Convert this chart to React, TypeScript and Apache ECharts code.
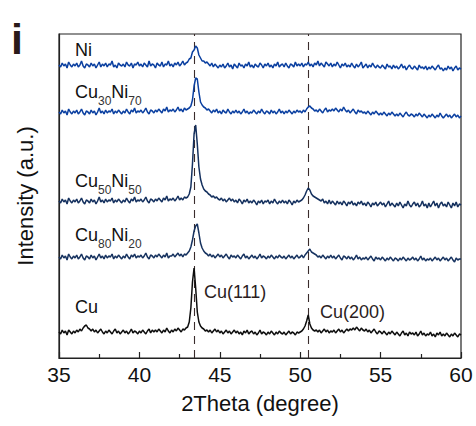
import React, { useEffect, useRef } from "react";
import * as echarts from "echarts";

// 2θ sampling grid (degrees)
const THETA_START = 35;
const THETA_STEP = 0.1;
const twoTheta = Array.from({ length: 251 }, (_, i) => Number((THETA_START + i * THETA_STEP).toFixed(1)));

// Intensities (a.u., stacked offsets), one row per degree
const ni = [
  293, 291, 295, 292, 294, 290, 296, 293, 291, 294,
  292, 295, 291, 293, 297, 292, 290, 294, 293, 291,
  295, 292, 294, 290, 293, 296, 291, 294, 292, 295,
  291, 294, 293, 297, 291, 293, 290, 295, 293, 292,
  294, 291, 296, 293, 292, 295, 290, 294, 293, 296,
  292, 294, 291, 295, 293, 291, 297, 292, 294, 293,
  290, 295, 293, 292, 296, 291, 294, 293, 297, 292,
  294, 291, 295, 293, 296, 292, 294, 297, 293, 295,
  296, 299, 300, 306, 308, 312, 310, 303, 300, 297,
  297, 295, 296, 294, 292, 295, 291, 294, 292, 290,
  293, 291, 294, 290, 292, 295, 291, 293, 289, 294,
  292, 290, 295, 292, 293, 290, 294, 292, 296, 291,
  293, 290, 294, 292, 291, 295, 293, 290, 294, 292,
  295, 291, 293, 290, 294, 292, 296, 291, 293, 294,
  291, 295, 292, 290, 294, 293, 291, 296, 292, 294,
  292, 295, 291, 294, 293, 296, 292, 294, 291, 295,
  293, 297, 292, 295, 293, 291, 296, 294, 292, 295,
  291, 294, 292, 296, 293, 290, 294, 292, 295, 291,
  293, 291, 295, 292, 290, 294, 291, 293, 296, 290,
  292, 294, 290, 293, 291, 295, 292, 290, 293, 291,
  290, 293, 291, 289, 294, 291, 292, 289, 293, 290,
  292, 289, 291, 294, 290, 292, 288, 291, 293, 290,
  289, 292, 290, 288, 293, 290, 291, 289, 292, 288,
  291, 289, 292, 290, 288, 291, 293, 289, 290, 287,
  290, 288, 292, 289, 291, 287, 290, 292, 288, 290,
  289,
];

const cu30ni70 = [
  246, 244, 248, 245, 247, 243, 249, 246, 244, 247,
  245, 248, 244, 246, 249, 245, 243, 247, 246, 244,
  248, 245, 247, 243, 246, 250, 245, 247, 244, 248,
  245, 247, 246, 249, 244, 247, 245, 248, 246, 244,
  247, 245, 249, 246, 244, 248, 246, 250, 245, 247,
  246, 248, 245, 247, 250, 246, 244, 248, 247, 245,
  248, 246, 249, 247, 245, 249, 247, 251, 246, 248,
  247, 249, 246, 248, 251, 247, 249, 246, 250, 248,
  249, 250, 252, 258, 272, 280, 279, 266, 256, 253,
  251, 250, 248, 249, 247, 245, 248, 246, 249, 245,
  247, 244, 248, 246, 245, 249, 246, 244, 247, 245,
  248, 245, 247, 244, 246, 249, 245, 247, 244, 246,
  245, 248, 246, 244, 247, 245, 249, 246, 244, 247,
  246, 244, 248, 245, 247, 244, 246, 249, 245, 247,
  244, 247, 245, 248, 246, 244, 247, 245, 248, 246,
  247, 245, 248, 246, 249, 251, 252, 250, 249, 247,
  248, 246, 249, 247, 245, 248, 250, 246, 248, 247,
  249, 247, 250, 248, 246, 249, 247, 251, 248, 246,
  248, 245, 247, 249, 246, 244, 248, 246, 247, 245,
  246, 244, 247, 245, 243, 246, 244, 247, 245, 243,
  245, 243, 246, 244, 242, 245, 243, 246, 244, 242,
  244, 242, 245, 243, 241, 244, 246, 243, 242, 244,
  243, 241, 244, 242, 245, 243, 241, 244, 242, 240,
  243, 241, 244, 242, 240, 243, 241, 245, 242, 240,
  242, 244, 241, 243, 240, 242, 244, 241, 243, 240,
  242,
];

const cu50ni50 = [
  157, 155, 159, 156, 158, 154, 160, 157, 155, 158,
  156, 159, 155, 157, 160, 156, 154, 158, 157, 155,
  159, 156, 158, 154, 157, 161, 156, 158, 155, 159,
  156, 158, 157, 160, 155, 158, 156, 159, 157, 155,
  158, 156, 160, 157, 155, 159, 157, 161, 156, 158,
  157, 159, 156, 158, 161, 157, 155, 159, 158, 156,
  159, 157, 160, 158, 156, 160, 158, 162, 157, 159,
  158, 160, 157, 159, 162, 158, 160, 158, 161, 160,
  161, 164, 171, 194, 224, 233, 214, 191, 179, 173,
  169, 167, 166, 164, 163, 161, 162, 160, 161, 159,
  158, 160, 157, 159, 156, 158, 160, 157, 159, 156,
  158, 155, 159, 157, 154, 158, 156, 159, 155, 157,
  155, 158, 156, 153, 157, 155, 158, 154, 157, 156,
  158, 154, 157, 155, 159, 156, 154, 157, 155, 158,
  155, 157, 154, 158, 156, 153, 157, 155, 158, 156,
  157, 158, 160, 163, 167, 170, 168, 164, 162, 161,
  160, 159, 158, 157, 159, 155, 157, 154, 158, 154,
  157, 155, 153, 157, 154, 156, 153, 157, 155, 152,
  156, 154, 157, 153, 155, 152, 156, 154, 157, 153,
  155, 152, 156, 154, 151, 155, 153, 156, 152, 154,
  156, 153, 155, 151, 154, 157, 152, 155, 153, 151,
  155, 152, 156, 153, 150, 154, 152, 157, 153, 151,
  154, 156, 152, 155, 151, 153, 157, 152, 154, 150,
  155, 151, 154, 157, 152, 155, 150, 154, 156, 152,
  154, 151, 156, 153, 150, 155, 152, 156, 151, 154,
  153,
];

const cu80ni20 = [
  101, 99, 103, 100, 102, 98, 104, 101, 99, 102,
  100, 103, 99, 101, 104, 100, 98, 102, 101, 99,
  103, 100, 102, 98, 101, 104, 100, 102, 99, 103,
  100, 102, 101, 104, 99, 102, 100, 103, 101, 99,
  102, 100, 104, 101, 99, 103, 101, 104, 100, 102,
  101, 103, 100, 102, 105, 101, 99, 103, 102, 100,
  103, 101, 104, 102, 100, 103, 101, 105, 100, 102,
  102, 104, 101, 103, 105, 102, 104, 101, 104, 103,
  105, 107, 111, 118, 127, 132, 134, 125, 115, 110,
  107, 105, 104, 102, 104, 101, 103, 100, 102, 104,
  101, 103, 100, 102, 104, 101, 99, 103, 101, 102,
  100, 103, 101, 99, 102, 104, 100, 102, 99, 101,
  103, 100, 102, 99, 101, 104, 100, 102, 101, 99,
  102, 100, 103, 101, 99, 102, 100, 103, 101, 100,
  102, 99, 101, 103, 100, 102, 99, 101, 103, 100,
  101, 103, 100, 103, 105, 107, 109, 106, 105, 104,
  103, 101, 102, 100, 103, 101, 99, 102, 100, 103,
  100, 102, 99, 101, 103, 100, 98, 102, 101, 99,
  102, 99, 101, 98, 100, 103, 99, 101, 98, 100,
  99, 101, 98, 100, 102, 99, 97, 101, 99, 100,
  98, 101, 99, 97, 100, 98, 101, 99, 97, 100,
  99, 97, 100, 98, 101, 99, 97, 100, 98, 99,
  101, 98, 100, 97, 99, 102, 98, 100, 97, 99,
  98, 100, 97, 99, 101, 98, 100, 97, 99, 101,
  98, 100, 97, 99, 101, 98, 96, 100, 98, 99,
  99,
];

const cu = [
  26, 24, 28, 25, 27, 23, 28, 26, 24, 27,
  25, 28, 26, 29, 27, 30, 32, 33, 30, 29,
  27, 29, 26, 28, 25, 27, 29, 26, 24, 27,
  25, 28, 26, 24, 27, 29, 25, 27, 24, 26,
  28, 25, 27, 24, 26, 29, 25, 27, 26, 24,
  27, 25, 28, 26, 24, 27, 29, 25, 28, 26,
  28, 26, 29, 27, 25, 28, 26, 30, 27, 25,
  28, 26, 29, 27, 30, 28, 26, 29, 28, 30,
  31, 36, 50, 76, 90, 70, 46, 36, 32, 30,
  29, 27, 28, 26, 28, 25, 27, 29, 26, 28,
  25, 27, 24, 26, 28, 25, 27, 24, 26, 28,
  25, 27, 24, 26, 23, 27, 25, 28, 24, 26,
  27, 24, 26, 23, 25, 28, 24, 26, 25, 23,
  26, 24, 27, 25, 23, 26, 24, 27, 25, 24,
  26, 23, 25, 27, 24, 26, 25, 23, 26, 25,
  26, 27, 29, 32, 37, 43, 34, 30, 28, 27,
  28, 26, 28, 25, 27, 29, 26, 28, 25, 27,
  26, 28, 25, 27, 29, 26, 28, 25, 27, 29,
  27, 29, 28, 30, 28, 31, 29, 27, 30, 28,
  27, 29, 26, 28, 25, 27, 29, 26, 24, 27,
  26, 24, 27, 25, 23, 26, 24, 27, 25, 23,
  26, 24, 22, 25, 27, 23, 25, 22, 26, 24,
  25, 23, 26, 22, 24, 27, 23, 25, 22, 24,
  23, 26, 22, 24, 21, 25, 23, 26, 22, 24,
  22, 25, 23, 21, 24, 22, 25, 23, 21, 24,
  23,
];

// Reference peak positions (dashed lines)
const refLines = [43.4, 50.5];

const seriesNames = ["Ni", "Cu30Ni70", "Cu50Ni50", "Cu80Ni20", "Cu"];
const seriesValues = [ni, cu30ni70, cu50ni50, cu80ni20, cu];
const seriesColors = ["#0a3fa0", "#0a3fa0", "#14305e", "#16325f", "#0d0d0d"];

// Sample labels: [main, sub, main, sub]
const sampleLabels: string[][] = [
  ["Ni"],
  ["Cu", "30", "Ni", "70"],
  ["Cu", "50", "Ni", "50"],
  ["Cu", "80", "Ni", "20"],
  ["Cu"],
];
const labelCenterY = [49.5, 91.5, 180.5, 235, 306.5];

const peakLabels = ["Cu(111)", "Cu(200)"];

const FONT = "'Liberation Sans', Arial, Helvetica, sans-serif";

function richLabel(parts: string[]) {
  return parts.map((p, i) => (i % 2 === 0 ? `{m|${p}}` : `{s|${p}}`)).join("");
}

export default function App() {
  const ref = useRef<HTMLDivElement>(null);

  useEffect(() => {
    const chart = echarts.init(ref.current!, null, { renderer: "svg" });

    const series: any[] = seriesNames.map((name, k) => ({
      name,
      type: "line",
      data: twoTheta.map((t, i) => [t, seriesValues[k][i]]),
      showSymbol: false,
      symbol: "none",
      lineStyle: { color: seriesColors[k], width: 1.5 },
      itemStyle: { color: seriesColors[k] },
      silent: true,
      z: 3,
    }));

    series.push({
      name: "ref",
      type: "line",
      data: [],
      silent: true,
      markLine: {
        silent: true,
        symbol: "none",
        label: { show: false },
        lineStyle: { color: "#3a2c2c", width: 1.1, type: [8, 6] },
        data: refLines.map((x) => ({ xAxis: x })),
        z: 1,
      },
    });

    const graphics: any[] = [
      {
        type: "text",
        x: 11,
        y: 39,
        style: {
          text: "i",
          fontSize: 43,
          fontWeight: "bold",
          fontFamily: FONT,
          fill: "#2a1a1a",
          verticalAlign: "middle",
        },
      },
      ...sampleLabels.map((parts, k) => ({
        type: "text",
        x: 75,
        y: labelCenterY[k],
        z: 10,
        style: {
          text: richLabel(parts),
          verticalAlign: "middle",
          fontFamily: FONT,
          rich: {
            m: { fontSize: 18, lineHeight: 30, fontFamily: FONT, fill: "#111", verticalAlign: "middle" },
            s: { fontSize: 12, lineHeight: 12, fontFamily: FONT, fill: "#333", verticalAlign: "bottom" },
          },
        },
      })),
      {
        type: "text",
        x: 204,
        y: 292,
        style: { text: peakLabels[0], fontSize: 18, fontFamily: FONT, fill: "#2b1d1d", verticalAlign: "middle" },
      },
      {
        type: "text",
        x: 320,
        y: 312,
        style: { text: peakLabels[1], fontSize: 18, fontFamily: FONT, fill: "#2b1d1d", verticalAlign: "middle" },
      },
    ];

    chart.setOption({
      animation: false,
      backgroundColor: "#ffffff",
      textStyle: { fontFamily: FONT },
      grid: {
        left: 59,
        right: 15,
        top: 34,
        bottom: 68,
        show: true,
        borderColor: "#222",
        borderWidth: 1.2,
        backgroundColor: "transparent",
      },
      xAxis: {
        type: "value",
        min: 35,
        max: 60,
        interval: 5,
        name: "2Theta (degree)",
        nameLocation: "middle",
        nameGap: 34,
        nameTextStyle: { fontSize: 22, color: "#111", fontFamily: FONT },
        axisLine: { show: true, onZero: false, lineStyle: { color: "#222", width: 1.2 } },
        axisTick: { show: true, inside: true, length: 6, lineStyle: { color: "#222", width: 1.2 } },
        minorTick: { show: true, splitNumber: 2, length: 4, lineStyle: { color: "#222", width: 1.2 } },
        axisLabel: { fontSize: 21, color: "#111", margin: 6, fontFamily: FONT },
        splitLine: { show: false },
        minorSplitLine: { show: false },
      },
      yAxis: {
        type: "value",
        min: 0,
        max: 324,
        name: "Intensity (a.u.)",
        nameLocation: "middle",
        nameGap: 23,
        nameTextStyle: { fontSize: 22, color: "#111", fontFamily: FONT },
        axisLine: { show: true, lineStyle: { color: "#222", width: 1.2 } },
        axisTick: { show: false },
        axisLabel: { show: false },
        splitLine: { show: false },
      },
      series,
      graphic: graphics,
    });

    return () => chart.dispose();
  }, []);

  return (
    <div
      ref={ref}
      style={{ position: "fixed", left: 0, top: 0, width: 476, height: 426, background: "#fff" }}
    />
  );
}
